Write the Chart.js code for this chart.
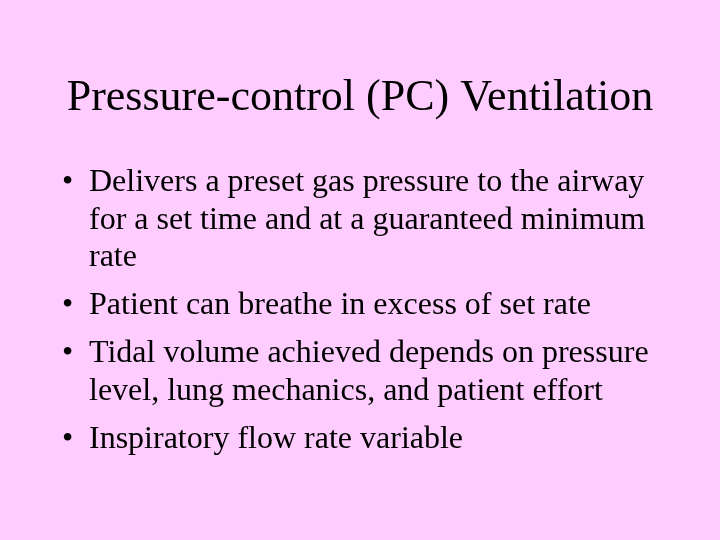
<!DOCTYPE html>
<html>
<head>
<meta charset="utf-8">
<script src="https://cdn.jsdelivr.net/npm/chart.js@4"></script>
<style>
  html, body { margin: 0; padding: 0; background: #ffccff; }
  #wrap { width: 720px; height: 540px; }
</style>
</head>
<body>
<div id="wrap"><canvas id="slide"></canvas></div>
<script>
// slide content
const slideTitle = 'Pressure-control (PC) Ventilation';
const bullets = [
    ['Delivers a preset gas pressure to the airway', 'for a set time and at a guaranteed minimum', 'rate'],
    ['Patient can breathe in excess of set rate'],
    ['Tidal volume achieved depends on pressure', 'level, lung mechanics, and patient effort'],
    ['Inspiratory flow rate variable']
];

const bgColor = '#ffccff';
const textColor = '#000000';
const serif = '"Liberation Serif", "Times New Roman", serif';

// paint the pink background
const background = {
    id: 'background',
    beforeDraw(chart) {
        const ctx = chart.ctx;
        ctx.save();
        ctx.fillStyle = bgColor;
        ctx.fillRect(0, 0, chart.width, chart.height);
        ctx.restore();
    }
};

// bullet list below the title
const bulletList = {
    id: 'bulletList',
    afterDraw(chart) {
        const ctx = chart.ctx;
        const fontSize = 32;
        const lineGap = 37.5;
        const paraGap = 48;
        let y = 191;
        ctx.save();
        ctx.fillStyle = textColor;
        ctx.font = fontSize + 'px ' + serif;
        ctx.textBaseline = 'alphabetic';
        ctx.textAlign = 'left';
        bullets.forEach(lines => {
            ctx.fillText('\u2022', 62, y);
            lines.forEach((line, i) => {
                ctx.fillText(line, 89, y + i * lineGap);
            });
            y += (lines.length - 1) * lineGap + paraGap;
        });
        ctx.restore();
    }
};

const ctx = document.getElementById('slide').getContext('2d');
new Chart(ctx, {
    type: 'scatter',
    data: { datasets: [{ data: [] }] },
    options: {
        responsive: true,
        maintainAspectRatio: false,
        animation: false,
        events: [],
        layout: { padding: 0 },
        scales: {
            x: { display: false },
            y: { display: false }
        },
        plugins: {
            legend: { display: false },
            tooltip: { enabled: false },
            title: {
                display: true,
                text: slideTitle,
                color: textColor,
                font: { family: serif, size: 44, weight: 'normal' },
                padding: { top: 72, bottom: 0 }
            }
        }
    },
    plugins: [background, bulletList]
});
</script>
</body>
</html>
